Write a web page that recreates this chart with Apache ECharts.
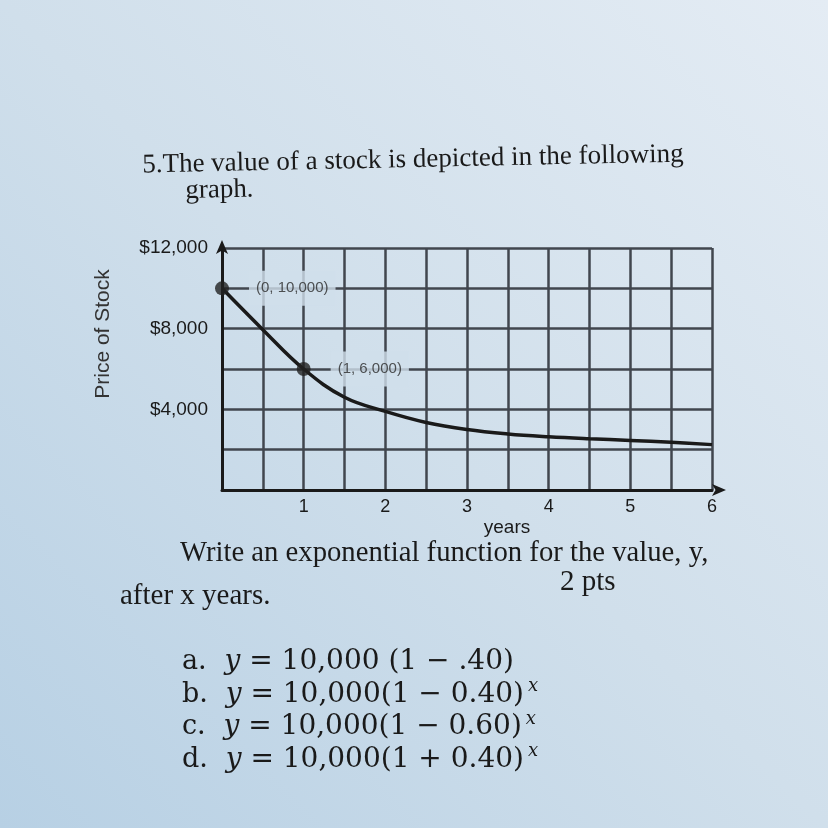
<!DOCTYPE html>
<html><head><meta charset="utf-8">
<script src="https://cdn.jsdelivr.net/npm/echarts@6/dist/echarts.min.js"></script>
<style>html,body{margin:0;padding:0;}#c{width:828px;height:828px;}</style>
</head><body><div id="c"></div>
<script>
// ---- data ----
const years = [0, 0.5, 1, 1.5, 2, 2.5, 3, 3.5, 4, 4.5, 5, 5.5, 6];
const price = [10000, 7950, 6000, 4600, 3900, 3350, 3000, 2780, 2640, 2540, 2460, 2370, 2250];
const markedX = [0, 1];
const markedY = [10000, 6000];
const markedLabels = ['(0, 10,000)', '(1, 6,000)'];
const yTickValues = [4000, 8000, 12000];
const yTickLabels = ['$4,000', '$8,000', '$12,000'];
const xTickValues = [1, 2, 3, 4, 5, 6];
const xTickLabels = ['1', '2', '3', '4', '5', '6'];
const yTitle = 'Price of Stock';
const xTitle = 'years';
const question = ['5.The value of a stock is depicted in the following', 'graph.'];
const prompt = ['Write an exponential function for the value, y,', 'after x years.', '2 pts'];
const options = [
  '{l|a.}  {v|y} = 10,000 (1 − .40)',
  '{l|b.}  {v|y} = 10,000(1 − 0.40){s|x}',
  '{l|c.}  {v|y} = 10,000(1 − 0.60){s|x}',
  '{l|d.}  {v|y} = 10,000(1 + 0.40){s|x}'
];

const chart = echarts.init(document.getElementById('c'));
const curve = years.map((x, i) => [x, price[i]]);
const pts = markedX.map((x, i) => ({ value: [x, markedY[i]], label: { formatter: markedLabels[i] } }));
const paperBg = '#cfdeeb';
const ink = '#1a1a1a';
const gridInk = '#41464e';
const serif = '"Liberation Serif", "DejaVu Serif", serif';
const math = '"DejaVu Serif", serif';
const sans = '"Liberation Sans", Arial, sans-serif';

const optionTexts = options.map((t, i) => ({
  type: 'text', left: 182, top: 645 + i * 32.5,
  style: {
    text: t, fill: ink, font: '28px ' + math,
    rich: {
      l: { fontFamily: math, fontSize: 27, fill: ink, lineHeight: 34 },
      v: { fontFamily: math, fontSize: 28, fontStyle: 'italic', fill: ink, lineHeight: 34 },
      s: { fontFamily: math, fontSize: 18, fontStyle: 'italic', fill: ink, verticalAlign: 'top', lineHeight: 34, padding: [0, 0, 0, 4] }
    },
    lineHeight: 34
  }
}));

chart.setOption({
  backgroundColor: {
    type: 'linear', x: 1, y: 0, x2: 0, y2: 1,
    colorStops: [{ offset: 0, color: '#e4ecf4' }, { offset: 0.5, color: '#d0dfeb' }, { offset: 1, color: '#b7d0e4' }]
  },
  animation: false,
  grid: { left: 222, right: 116, top: 248, bottom: 338 },
  xAxis: {
    type: 'value', min: 0, max: 6, interval: 0.5,
    axisLine: { show: true, lineStyle: { color: ink, width: 3 }, symbol: ['none', 'arrow'], symbolSize: [9, 14], symbolOffset: [0, 14] },
    axisTick: { show: false },
    splitLine: { show: true, lineStyle: { color: gridInk, width: 2.5 } },
    axisLabel: {
      color: ink, fontSize: 18, fontFamily: sans, margin: 8,
      formatter: v => { const k = xTickValues.indexOf(v); return k >= 0 ? xTickLabels[k] : ''; }
    }
  },
  yAxis: {
    type: 'value', min: 0, max: 12000, interval: 2000,
    axisLine: { show: true, lineStyle: { color: ink, width: 3 }, symbol: ['none', 'arrow'], symbolSize: [9, 14], symbolOffset: [0, 8] },
    axisTick: { show: false },
    splitLine: { show: true, lineStyle: { color: gridInk, width: 2.5 } },
    axisLabel: {
      color: ink, fontSize: 19, fontFamily: sans, margin: 14,
      formatter: v => { const k = yTickValues.indexOf(v); return k >= 0 ? yTickLabels[k] : ''; }
    }
  },
  series: [
    { type: 'line', data: curve, smooth: 0.4, showSymbol: false, lineStyle: { color: ink, width: 3.5 }, z: 3 },
    {
      type: 'scatter', data: pts, symbolSize: 14, itemStyle: { color: '#222' }, z: 4,
      label: {
        show: true, position: 'right', distance: 20, color: '#2a2a2a', fontSize: 15, fontFamily: sans,
        backgroundColor: paperBg, padding: [10, 7]
      },
      emphasis: { disabled: true }
    }
  ],
  graphic: [
    { type: 'text', left: 142, top: 141, rotation: 0.02, style: { text: question[0], fill: ink, font: '27px ' + serif } },
    { type: 'text', left: 185, top: 176, rotation: 0.02, style: { text: question[1], fill: ink, font: '27px ' + serif } },
    { type: 'text', x: 103, y: 334, rotation: Math.PI / 2, style: { text: yTitle, fill: '#333', font: '21px ' + sans, align: 'center', verticalAlign: 'middle' } },
    { type: 'text', x: 507, y: 528, style: { text: xTitle, fill: ink, font: '19px ' + sans, align: 'center', verticalAlign: 'middle' } },
    { type: 'text', x: 180, y: 553, style: { text: prompt[0], fill: ink, font: '28.7px ' + serif, verticalAlign: 'middle' } },
    { type: 'text', x: 120, y: 596, style: { text: prompt[1], fill: ink, font: '29px ' + serif, verticalAlign: 'middle' } },
    { type: 'text', x: 560, y: 582, style: { text: prompt[2], fill: ink, font: '29px ' + serif, verticalAlign: 'middle' } }
  ].concat(optionTexts)
});
</script>
</body></html>
